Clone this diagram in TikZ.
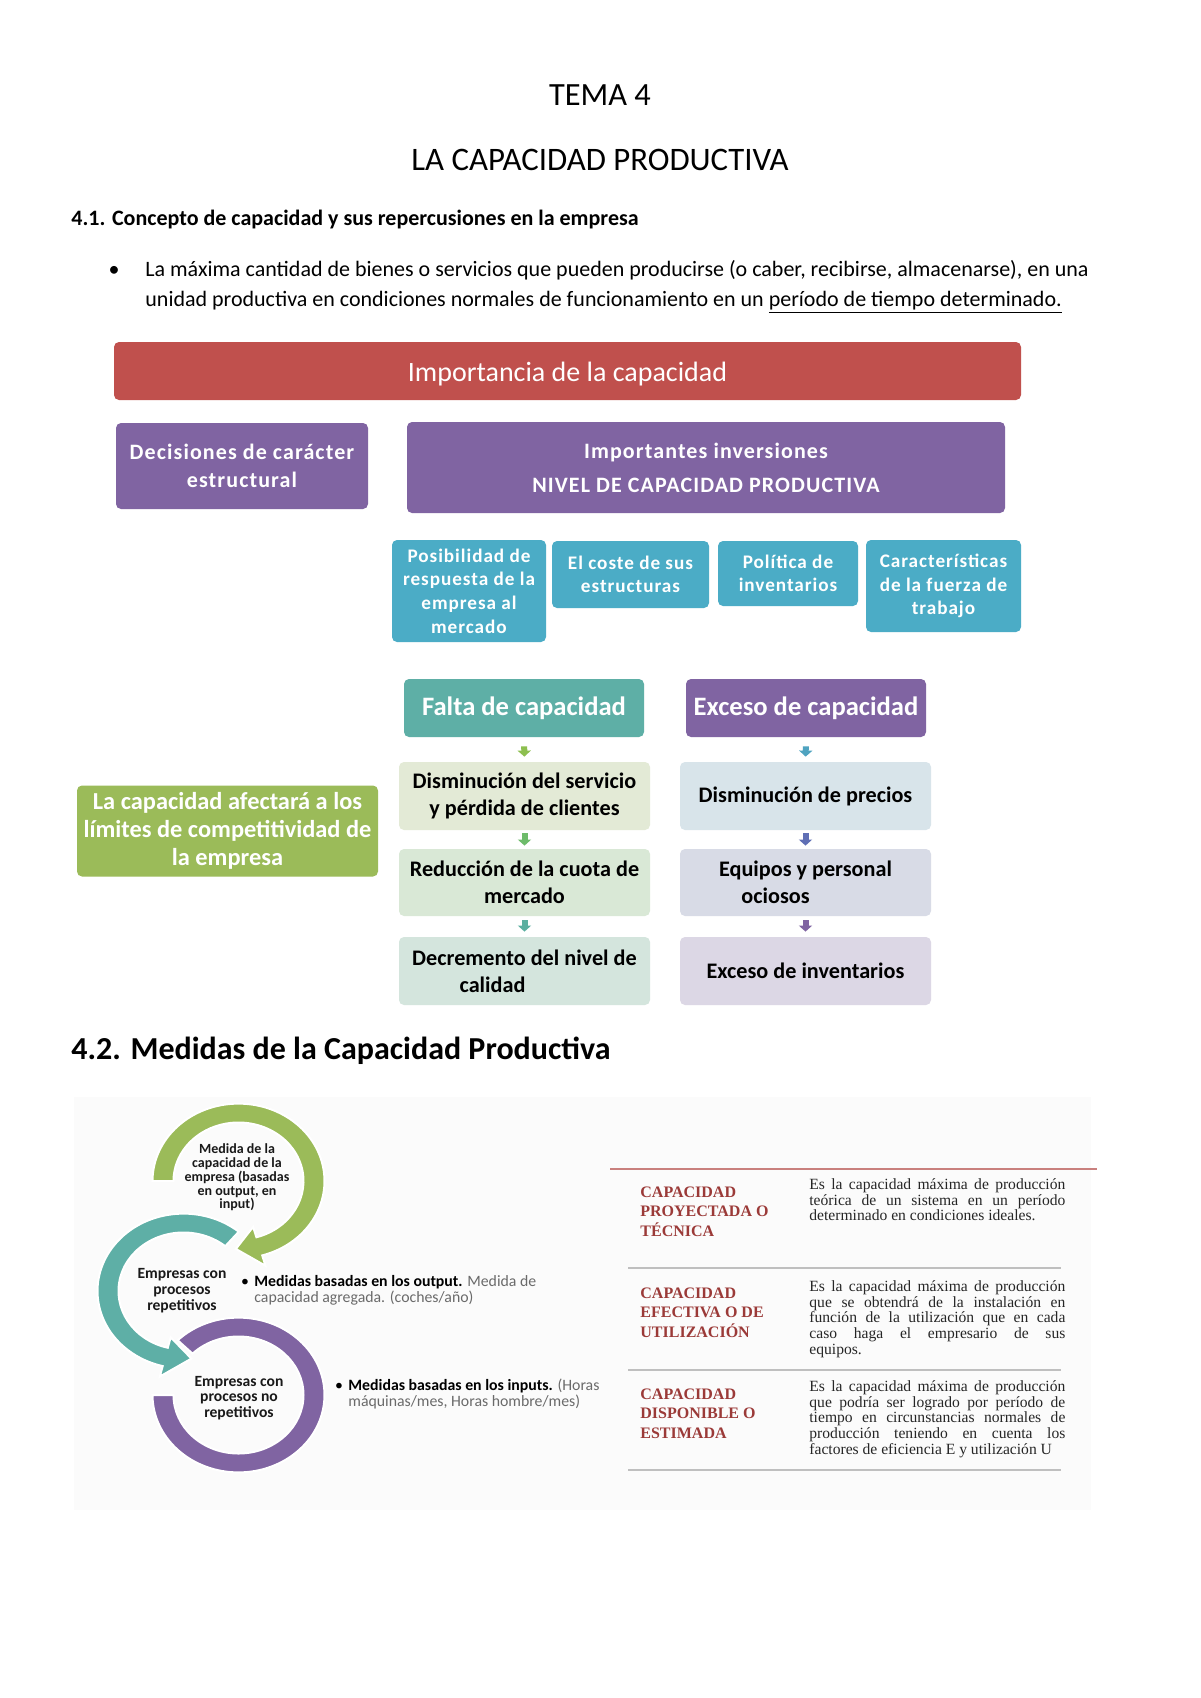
\documentclass[tikz,border=0pt]{standalone}
\usepackage{fontspec}
\setmainfont{Carlito}
\newfontfamily\tabserif{Liberation Serif}
\newfontfamily\spfont[LetterSpace=5]{Carlito}
\usetikzlibrary{arrows.meta}
\definecolor{cred}{HTML}{C0504D}
\definecolor{cpurple}{HTML}{8064A2}
\definecolor{cblue}{HTML}{4BACC6}
\definecolor{cteal}{HTML}{5EAFA6}
\definecolor{cgreen}{HTML}{9BBB59}
\definecolor{fLa}{HTML}{E3EAD6}
\definecolor{fLb}{HTML}{D9E8D6}
\definecolor{fLc}{HTML}{D4E5DD}
\definecolor{fRa}{HTML}{D8E4EA}
\definecolor{fRb}{HTML}{D8DBE6}
\definecolor{fRc}{HTML}{DCD7E5}
\definecolor{aGa}{HTML}{8DBF4F}
\definecolor{aGb}{HTML}{6DBB6A}
\definecolor{aGc}{HTML}{5BAFA0}
\definecolor{aRa}{HTML}{4FA3C0}
\definecolor{aRb}{HTML}{5F6FB5}
\definecolor{aRc}{HTML}{8064A2}
\definecolor{tabred}{HTML}{9B3A38}
\definecolor{tabline}{HTML}{C9807E}
\definecolor{bgray}{HTML}{6A6A6A}
\newcommand{\myfs}[2]{\fontsize{#1}{#2}\selectfont}
\newcommand{\jline}[1]{\makebox[128pt][s]{#1}}
\begin{document}
\begin{tikzpicture}[x=0.5pt,y=-0.5pt,
  bx/.style={rectangle, rounded corners=2.5pt, inner sep=0pt, align=center},
  wbx/.style={bx, text=white, font=\spfont\bfseries\myfs{11}{14}},
  lbx/.style={bx, text=black, font=\bfseries\myfs{11.1}{13.5}, minimum width=125.5pt, minimum height=34pt},
  bbx/.style={bx, fill=cblue, text=white, font=\spfont\bfseries\myfs{9.6}{11.8}},
  sarrow/.style={line width=3pt, -{Triangle[width=6.5pt,length=3pt]}},
  ringtxt/.style={align=center, inner sep=0pt, text=black!90},
  tlabel/.style={anchor=north west, align=left, inner sep=0pt, text=tabred, font=\tabserif\bfseries\myfs{8}{9.75}},
  tdesc/.style={anchor=north west, align=left, inner sep=0pt, text=black!85, font=\tabserif\myfs{7.8}{7.9}},
  btxt/.style={anchor=north west, align=left, inner sep=0pt, font=\myfs{7.9}{8}},
  ringline/.style={draw=white, line width=1pt}
]
\useasboundingbox (0,0) rectangle (1200,1698);
\fill[white] (0,0) rectangle (1200,1698);

% titles
\node[anchor=base, inner sep=0pt, font=\myfs{16.2}{19}] (t1) at (600,105) {TEMA 4};
\node[anchor=base, inner sep=0pt, font=\myfs{16.4}{19}] (t2) at (600,170) {LA CAPACIDAD PRODUCTIVA};
\node[anchor=base west, inner sep=0pt, font=\bfseries\myfs{11}{13}] (h41) at (71,225) {4.1. Concepto de capacidad y sus repercusiones en la empresa};
\node[anchor=base, inner sep=0pt, font=\myfs{11}{13}] (bul) at (114,276) {\textbullet};
\node[anchor=base west, inner sep=0pt, font=\myfs{11}{13}] (la) at (145,276) {La máxima cantidad de bienes o servicios que pueden producirse (o caber, recibirse, almacenarse), en una};
\node[anchor=base west, inner sep=0pt, font=\myfs{11}{13}] (lb) at (145,306) {unidad productiva en condiciones normales de funcionamiento en un \underline{período de tiempo determinado.}};

% top diagram
\node[bx, fill=cred, text=white, font=\myfs{14}{16}, text height=13pt, text depth=3pt, minimum width=453.5pt, minimum height=29pt] (imp) at (567.5,371) {Importancia de la capacidad};
\node[wbx, fill=cpurple, minimum width=126pt, minimum height=43pt] (dec) at (242,466) {Decisiones de carácter\\estructural};
\node[wbx, fill=cpurple, font=\spfont\bfseries\myfs{11}{17}, minimum width=299pt, minimum height=45.5pt] (inv) at (706,467.5) {Importantes inversiones\\NIVEL DE CAPACIDAD PRODUCTIVA};
\node[bbx, minimum width=77pt, minimum height=51pt] (pos) at (469,591) {Posibilidad de\\respuesta de la\\empresa al\\mercado};
\node[bbx, minimum width=78.5pt, minimum height=33.5pt] (cos) at (630.5,574.5) {El coste de sus\\estructuras};
\node[bbx, minimum width=70pt, minimum height=32.5pt] (pol) at (788,573.5) {Política de\\inventarios};
\node[bbx, minimum width=77.5pt, minimum height=46pt] (car) at (943.5,586) {Características\\de la fuerza de\\trabajo};

\node[bx, fill=cteal, text=white, font=\bfseries\myfs{13.3}{15}, minimum width=120pt, minimum height=29pt] (fal) at (524,708) {Falta de capacidad};
\node[bx, fill=cpurple, text=white, font=\bfseries\myfs{13.3}{15}, minimum width=120pt, minimum height=29pt] (exc) at (806,708) {Exceso de capacidad};

\node[lbx, fill=fLa] (la1) at (524.5,796) {Disminución del servicio\\y pérdida de clientes};
\node[lbx, fill=fLb, minimum height=33.5pt] (la2) at (524.5,882.5) {Reducción de la cuota de\\mercado};
\node[lbx, fill=fLc] (la3) at (524.5,971) {Decremento del nivel de\\calidad\hspace*{32pt}};
\node[lbx, fill=fRa] (ra1) at (805.5,796) {Disminución de precios};
\node[lbx, fill=fRb, minimum height=33.5pt] (ra2) at (805.5,882.5) {Equipos y personal\\ociosos\hspace*{30pt}};
\node[lbx, fill=fRc] (ra3) at (805.5,971) {Exceso de inventarios};

\node[bx, fill=cgreen, text=white, font=\bfseries\myfs{12.2}{14}, minimum width=150.5pt, minimum height=45.5pt] (cap) at (227.5,831) {La capacidad afectará a los\\límites de competitividad de\\la empresa};

\draw[sarrow, aGa, shorten <=4.5pt, shorten >=2.5pt] (fal.south) -- (la1.north);
\draw[sarrow, aGb, shorten <=1.5pt, shorten >=1.5pt] (la1.south) -- (la2.north);
\draw[sarrow, aGc, shorten <=2pt, shorten >=2.5pt] (la2.south) -- (la3.north);
\draw[sarrow, aRa, shorten <=4.5pt, shorten >=2.5pt] (exc.south) -- (ra1.north);
\draw[sarrow, aRb, shorten <=1.5pt, shorten >=1.5pt] (ra1.south) -- (ra2.north);
\draw[sarrow, aRc, shorten <=2pt, shorten >=2.5pt] (ra2.south) -- (ra3.north);

% 4.2
\node[anchor=base west, inner sep=0pt, font=\bfseries\myfs{16}{19}] (h42) at (71,1059) {4.2. Medidas de la Capacidad Productiva};

\fill[black!1.5] (74,1097) rectangle (1091,1510);

% rings
\begin{scope}[shift={(238.5,1181)}, yscale=0.9]
\fill[cgreen, ringline] (-180:86) arc[start angle=-180, end angle=74, radius=86] -- (74:98) -- (92:75.5) -- (74:53) -- (74:65) arc[start angle=74, end angle=-180, radius=65] -- cycle;
\end{scope}
\begin{scope}[shift={(183.5,1291)}, yscale=0.9]
\fill[cteal, ringline] (-50:86) arc[start angle=-50, end angle=-256, radius=86] -- (-256:98) -- (-276:75.5) -- (-256:53) -- (-256:65) arc[start angle=-256, end angle=-50, radius=65] -- cycle;
\end{scope}
\begin{scope}[shift={(238.5,1395)}, yscale=0.9]
\fill[cpurple, ringline] (-135:86) arc[start angle=-135, end angle=180, radius=86] -- (180:65) arc[start angle=180, end angle=-135, radius=65] -- cycle;
\end{scope}

\node[ringtxt, font=\bfseries\myfs{7}{6.9}] (tg) at (237,1177.5) {Medida de la\\capacidad de la\\empresa (basadas\\en output, en\\input)};
\node[ringtxt, font=\bfseries\myfs{7.8}{8}] (tt) at (182,1291) {Empresas con\\procesos\\repetitivos};
\node[ringtxt, font=\bfseries\myfs{7.8}{7.6}] (tp) at (239,1398) {Empresas con\\procesos no\\repetitivos};

\node[anchor=base, inner sep=0pt, font=\myfs{7.9}{8}] (bua) at (245,1286) {\textbullet};
\node[btxt] (ba) at (254,1275) {\textbf{Medidas basadas en los output.} \textcolor{bgray}{Medida de}\\\textcolor{bgray}{capacidad agregada. (coches/año)}};
\node[anchor=base, inner sep=0pt, font=\myfs{7.9}{8}] (bub) at (339,1390) {\textbullet};
\node[btxt] (bb) at (348,1379) {\textbf{Medidas basadas en los inputs.} \textcolor{bgray}{(Horas}\\\textcolor{bgray}{máquinas/mes, Horas hombre/mes)}};

% table
\draw[tabline, line width=0.8pt] (610,1169) -- (1097,1169);
\draw[black!25, line width=0.9pt] (628,1268) -- (1061,1268);
\draw[black!25, line width=0.9pt] (628,1370) -- (1061,1370);
\draw[black!25, line width=0.9pt] (628,1470) -- (1061,1470);

\node[tlabel] (ka) at (640,1186) {CAPACIDAD\\PROYECTADA O\\TÉCNICA};
\node[tlabel] (kb) at (640,1287) {CAPACIDAD\\EFECTIVA O DE\\UTILIZACIÓN};
\node[tlabel] (kc) at (640,1388) {CAPACIDAD\\DISPONIBLE O\\ESTIMADA};

\node[tdesc] (da) at (809,1178) {\jline{Es la capacidad máxima de producción}\\\jline{teórica de un sistema en un período}\\determinado en condiciones ideales.};
\node[tdesc] (db) at (809,1280) {\jline{Es la capacidad máxima de producción}\\\jline{que se obtendrá de la instalación en}\\\jline{función de la utilización que en cada}\\\jline{caso haga el empresario de sus}\\equipos.};
\node[tdesc] (dc) at (809,1380) {\jline{Es la capacidad máxima de producción}\\\jline{que podría ser logrado por período de}\\\jline{tiempo en circunstancias normales de}\\\jline{producción teniendo en cuenta los}\\factores de eficiencia E y utilización U};
\end{tikzpicture}
\end{document}
